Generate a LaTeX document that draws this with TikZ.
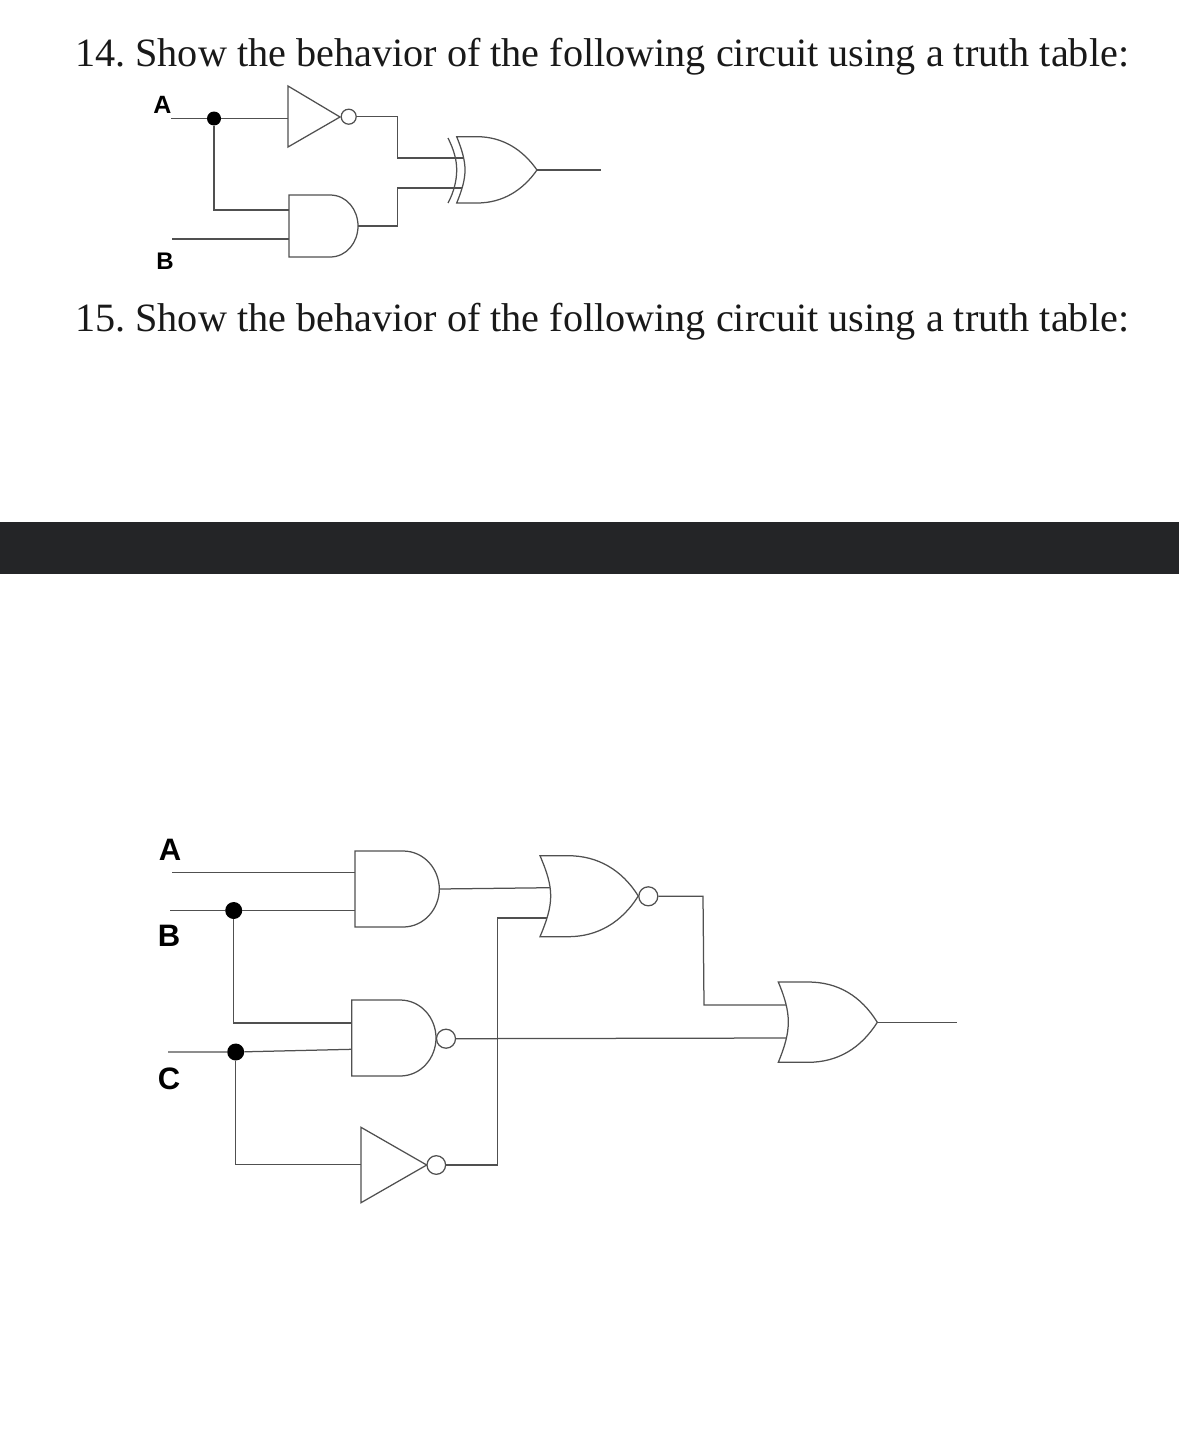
\documentclass[tikz,border=0pt]{standalone}
\usepackage{fontspec}
\setmainfont{Liberation Serif}
\newfontfamily\labelfont{Liberation Sans}
\definecolor{wire}{HTML}{505050}
\definecolor{barcol}{HTML}{242527}
\tikzset{
  wirepath/.style={draw=wire,line width=1.25pt,line join=miter},
  gatepath/.style={draw=wire,line width=1.25pt,line join=miter,fill=white},
  dotnode/.style={circle,fill=black,draw=none,inner sep=0pt,minimum size=#1},
  bubble/.style={circle,draw=wire,line width=1.25pt,fill=white,inner sep=0pt,minimum size=#1},
  heading/.style={anchor=base west,inner sep=0pt,font=\fontsize{40.2}{44}\selectfont,text=black!90},
  pinlabel/.style={inner sep=0pt,font=\labelfont\bfseries\fontsize{#1}{#1}\selectfont},
}
\frenchspacing
\begin{document}
\begin{tikzpicture}[x=1pt,y=-1pt]
\useasboundingbox (0,0) rectangle (1179,1440);
\fill[barcol] (0,522) rectangle (1179,574);
\node[heading] (t14) at (75,66) {14. Show the behavior of the following circuit using a truth table:};
\node[heading] (t15) at (75,331.5) {15. Show the behavior of the following circuit using a truth table:};

% ---------- circuit 14 ----------
\node[pinlabel=25] (a1) at (162.5,105) {A};
\node[pinlabel=24] (b1) at (165,261) {B};
\coordinate (a1in) at (171,118.5);
\coordinate (b1in) at (172,239);
\node[dotnode=14pt] (d1) at (214,118.5) {};
% inverter
\coordinate (inv1a) at (288,118.5);
\draw[gatepath] (288,86) -- (340,117) -- (288,147) -- cycle;
\node[bubble=15pt] (bub1) at (348.7,116.7) {};
% and
\coordinate (and1a) at (289,210);
\coordinate (and1b) at (289,239);
\coordinate (and1o) at (358,226);
\draw[gatepath] (289,195) -- (330,195) .. controls (347,195) and (358,210) .. (358,226) .. controls (358,242) and (347,257) .. (330,257) -- (289,257) -- cycle;
% xor
\coordinate (x1a) at (463,158);
\coordinate (x1b) at (463,188);
\coordinate (x1o) at (537,170);
\draw[wirepath] (a1in) -- (d1) -- (inv1a);
\draw[wirepath] (d1) -- (214,210) -- (and1a);
\draw[wirepath] (b1in) -- (and1b);
\draw[wirepath] (bub1.east) -- (397.3,116.7) -- (397.3,158) -- (x1a);
\draw[wirepath] (and1o) -- (397.3,226) -- (397.3,188) -- (x1b);
\draw[gatepath] (456.7,136.7) -- (477,136.7) .. controls (503,136.7) and (523,150) .. (x1o) .. controls (523,190) and (503,203) .. (477,203) -- (456.7,203) .. controls (462,190) and (465,180) .. (465,170) .. controls (465,160) and (462,150) .. cycle;
\draw[wirepath] (448,138) .. controls (454,150) and (456.7,160) .. (456.7,170) .. controls (456.7,180) and (454,192) .. (448,203);
\coordinate (x1end) at (600.5,170);
\draw[wirepath] (x1o) -- (x1end);

% ---------- circuit 15 ----------
\node[pinlabel=31] (a2) at (170,850) {A};
\node[pinlabel=31] (b2) at (169,936) {B};
\node[pinlabel=31] (c2) at (169,1079) {C};
\coordinate (a2in) at (172,872.5);
\coordinate (b2in) at (170,910.5);
\coordinate (c2in) at (168,1052);
\node[dotnode=17pt] (d2) at (233.7,910.5) {};
\node[dotnode=17pt] (d3) at (235.7,1052) {};
\coordinate (and2a) at (355,872.5);
\coordinate (and2b) at (355,910.5);
\coordinate (and2o) at (439.3,889);
\coordinate (nand1a) at (351.7,1023);
\coordinate (nand1b) at (351.7,1049.3);
\coordinate (inv2a) at (361,1164.7);
\coordinate (nor1a) at (550.3,887.7);
\coordinate (nor1b) at (546.7,918);
\coordinate (or2a) at (786.7,1005);
\coordinate (or2b) at (786.7,1038);
\coordinate (or2o) at (877.3,1022.3);
\coordinate (or2end) at (957.3,1022.3);

\draw[wirepath] (a2in) -- (and2a);
\draw[wirepath] (b2in) -- (d2) -- (and2b);
\draw[wirepath] (d2) -- (233.7,1023) -- (nand1a);
\draw[wirepath] (c2in) -- (d3) -- (nand1b);
\draw[wirepath] (d3) -- (235.7,1164.7) -- (inv2a);
\draw[wirepath] (and2o) -- (nor1a);

\draw[gatepath] (355,851) -- (403,851) .. controls (424,851) and (439.3,869) .. (439.3,889) .. controls (439.3,909) and (424,927) .. (403,927) -- (355,927) -- cycle;
\draw[gatepath] (351.7,1000) -- (400,1000) .. controls (421,1000) and (436,1018) .. (436,1038) .. controls (436,1058) and (421,1076) .. (400,1076) -- (351.7,1076) -- cycle;
\node[bubble=19pt] (bub2) at (446,1038.7) {};
\draw[gatepath] (361,1127.3) -- (426.7,1165) -- (361,1202.7) -- cycle;
\node[bubble=18.6pt] (bub3) at (436.3,1165) {};

\draw[wirepath] (bub3.east) -- (497.3,1165) -- (497.3,918) -- (nor1b);
\draw[wirepath] (bub2.east) -- (or2b);

% nor
\draw[gatepath] (540,855.7) -- (568,855.7) .. controls (598,855.7) and (622,870) .. (638.3,896) .. controls (622,922) and (598,936.7) .. (568,936.7) -- (540,936.7) .. controls (547,920) and (550.7,908) .. (550.7,896) .. controls (550.7,884) and (547,872) .. cycle;
\node[bubble=19pt] (bub4) at (648.3,896.3) {};
\draw[wirepath] (bub4.east) -- (703,896.3) -- (704,1005) -- (or2a);
% or
\draw[gatepath] (778.3,982) -- (808,982) .. controls (838,982) and (861,996) .. (or2o) .. controls (861,1048) and (838,1062.3) .. (808,1062.3) -- (778.3,1062.3) .. controls (785,1046) and (788.3,1034) .. (788.3,1022) .. controls (788.3,1010) and (785,998) .. cycle;
\draw[wirepath] (or2o) -- (or2end);
\end{tikzpicture}
\end{document}
